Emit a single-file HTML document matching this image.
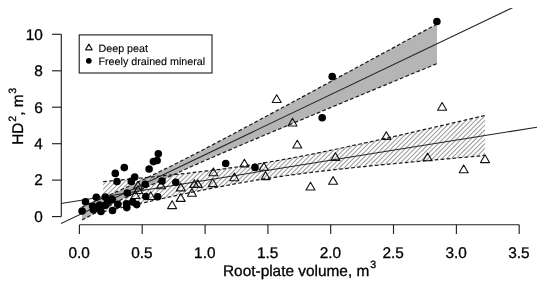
<!DOCTYPE html>
<html><head><meta charset="utf-8"><title>Root-plate volume chart</title>
<style>html,body{margin:0;padding:0;background:#fff}svg{display:block}</style></head>
<body>
<svg width="550" height="284" viewBox="0 0 550 284" font-family="'Liberation Sans', Arial, sans-serif" fill="#000" text-rendering="geometricPrecision">
<style>text{stroke:#000;stroke-width:0.3px}</style>
<defs>
<clipPath id="plot"><rect x="61" y="8" width="476" height="217"/></clipPath>
</defs>
<rect width="550" height="284" fill="#fff"/>
<polygon points="82.0,207.0 87.9,204.4 93.8,201.8 99.8,199.2 105.7,196.6 111.6,194.0 117.5,191.4 123.4,188.7 129.3,186.0 135.2,183.3 141.2,180.5 147.1,177.7 153.0,174.9 158.9,172.0 164.8,169.1 170.8,166.2 176.7,163.2 182.6,160.2 188.5,157.2 194.4,154.2 200.3,151.2 206.2,148.1 212.2,145.0 218.1,141.9 224.0,138.8 229.9,135.7 235.8,132.5 241.8,129.4 247.7,126.2 253.6,123.1 259.5,119.9 265.4,116.8 271.3,113.6 277.2,110.4 283.2,107.2 289.1,104.1 295.0,100.9 300.9,97.7 306.8,94.5 312.8,91.3 318.7,88.1 324.6,84.9 330.5,81.7 336.4,78.5 342.3,75.3 348.2,72.1 354.2,68.9 360.1,65.7 366.0,62.5 371.9,59.3 377.8,56.1 383.8,52.9 389.7,49.7 395.6,46.5 401.5,43.2 407.4,40.0 413.3,36.8 419.2,33.6 425.2,30.4 431.1,27.2 437.0,24.0 437.0,63.6 431.1,66.0 425.2,68.5 419.2,70.9 413.3,73.3 407.4,75.8 401.5,78.2 395.6,80.7 389.7,83.1 383.8,85.6 377.8,88.0 371.9,90.5 366.0,92.9 360.1,95.4 354.2,97.8 348.2,100.3 342.3,102.7 336.4,105.2 330.5,107.6 324.6,110.1 318.7,112.6 312.8,115.0 306.8,117.5 300.9,120.0 295.0,122.4 289.1,124.9 283.2,127.4 277.2,129.8 271.3,132.3 265.4,134.8 259.5,137.3 253.6,139.8 247.7,142.3 241.8,144.8 235.8,147.3 229.9,149.9 224.0,152.4 218.1,154.9 212.2,157.5 206.2,160.1 200.3,162.6 194.4,165.2 188.5,167.9 182.6,170.5 176.7,173.2 170.8,175.9 164.8,178.6 158.9,181.4 153.0,184.2 147.1,187.0 141.2,189.9 135.2,192.8 129.3,195.7 123.4,198.6 117.5,201.6 111.6,204.6 105.7,207.7 99.8,210.7 93.8,213.8 87.9,216.9 82.0,220.0" fill="#b5b5b5"/>
<clipPath id="band1"><polygon points="103.1,181.6 109.5,181.0 115.8,180.4 122.2,179.8 128.6,179.2 134.9,178.6 141.3,178.0 147.7,177.4 154.0,176.7 160.4,176.1 166.8,175.4 173.1,174.8 179.5,174.1 185.8,173.4 192.2,172.7 198.6,171.9 204.9,171.2 211.3,170.4 217.7,169.6 224.0,168.8 230.4,167.9 236.8,167.0 243.1,166.1 249.5,165.2 255.9,164.2 262.2,163.2 268.6,162.1 275.0,161.0 281.3,159.9 287.7,158.8 294.0,157.6 300.4,156.4 306.8,155.2 313.1,153.9 319.5,152.6 325.9,151.3 332.2,150.0 338.6,148.7 345.0,147.3 351.3,145.9 357.7,144.6 364.1,143.2 370.4,141.8 376.8,140.3 383.2,138.9 389.5,137.5 395.9,136.1 402.3,134.6 408.6,133.2 415.0,131.7 421.4,130.2 427.7,128.8 434.1,127.3 440.4,125.8 446.8,124.4 453.2,122.9 459.5,121.4 465.9,119.9 472.3,118.4 478.6,116.9 485.0,115.4 485.0,155.5 478.6,156.1 472.3,156.6 465.9,157.2 459.5,157.7 453.2,158.3 446.8,158.9 440.4,159.4 434.1,160.0 427.7,160.6 421.4,161.1 415.0,161.7 408.6,162.3 402.3,162.9 395.9,163.5 389.5,164.1 383.2,164.7 376.8,165.3 370.4,165.9 364.1,166.6 357.7,167.2 351.3,167.9 345.0,168.6 338.6,169.2 332.2,169.9 325.9,170.7 319.5,171.4 313.1,172.2 306.8,172.9 300.4,173.8 294.0,174.6 287.7,175.5 281.3,176.3 275.0,177.3 268.6,178.2 262.2,179.2 255.9,180.2 249.5,181.3 243.1,182.4 236.8,183.5 230.4,184.7 224.0,185.9 217.7,187.1 211.3,188.3 204.9,189.6 198.6,190.9 192.2,192.2 185.8,193.5 179.5,194.8 173.1,196.2 166.8,197.6 160.4,199.0 154.0,200.4 147.7,201.8 141.3,203.2 134.9,204.6 128.6,206.0 122.2,207.5 115.8,208.9 109.5,210.4 103.1,211.8"/></clipPath>
<path clip-path="url(#band1)" d="M100,108.58L490,-281.42M100,113.24L490,-276.75M100,117.91L490,-272.09M100,122.58L490,-267.42M100,127.25L490,-262.75M100,131.91L490,-258.09M100,136.58L490,-253.42M100,141.25L490,-248.75M100,145.91L490,-244.09M100,150.58L490,-239.42M100,155.25L490,-234.75M100,159.91L490,-230.09M100,164.58L490,-225.42M100,169.25L490,-220.75M100,173.92L490,-216.08M100,178.58L490,-211.42M100,183.25L490,-206.75M100,187.92L490,-202.08M100,192.58L490,-197.42M100,197.25L490,-192.75M100,201.92L490,-188.08M100,206.58L490,-183.42M100,211.25L490,-178.75M100,215.92L490,-174.08M100,220.59L490,-169.41M100,225.25L490,-164.75M100,229.92L490,-160.08M100,234.59L490,-155.41M100,239.25L490,-150.75M100,243.92L490,-146.08M100,248.59L490,-141.41M100,253.25L490,-136.75M100,257.92L490,-132.08M100,262.59L490,-127.41M100,267.26L490,-122.74M100,271.92L490,-118.08M100,276.59L490,-113.41M100,281.26L490,-108.74M100,285.92L490,-104.08M100,290.59L490,-99.41M100,295.26L490,-94.74M100,299.92L490,-90.08M100,304.59L490,-85.41M100,309.26L490,-80.74M100,313.93L490,-76.07M100,318.59L490,-71.41M100,323.26L490,-66.74M100,327.93L490,-62.07M100,332.59L490,-57.41M100,337.26L490,-52.74M100,341.93L490,-48.07M100,346.59L490,-43.41M100,351.26L490,-38.74M100,355.93L490,-34.07M100,360.60L490,-29.40M100,365.26L490,-24.74M100,369.93L490,-20.07M100,374.60L490,-15.40M100,379.26L490,-10.74M100,383.93L490,-6.07M100,388.60L490,-1.40M100,393.26L490,3.26M100,397.93L490,7.93M100,402.60L490,12.60M100,407.27L490,17.27M100,411.93L490,21.93M100,416.60L490,26.60M100,421.27L490,31.27M100,425.93L490,35.93M100,430.60L490,40.60M100,435.27L490,45.27M100,439.93L490,49.93M100,444.60L490,54.60M100,449.27L490,59.27M100,453.94L490,63.94M100,458.60L490,68.60M100,463.27L490,73.27M100,467.94L490,77.94M100,472.60L490,82.60M100,477.27L490,87.27M100,481.94L490,91.94M100,486.60L490,96.60M100,491.27L490,101.27M100,495.94L490,105.94M100,500.61L490,110.61M100,505.27L490,115.27M100,509.94L490,119.94M100,514.61L490,124.61M100,519.27L490,129.27M100,523.94L490,133.94M100,528.61L490,138.61M100,533.27L490,143.27M100,537.94L490,147.94M100,542.61L490,152.61M100,547.28L490,157.28M100,551.94L490,161.94M100,556.61L490,166.61M100,561.28L490,171.28M100,565.94L490,175.94M100,570.61L490,180.61M100,575.28L490,185.28M100,579.94L490,189.94M100,584.61L490,194.61" stroke="#a0a0a0" stroke-width="1.1" fill="none"/>
<polyline points="103.1,181.6 109.5,181.0 115.8,180.4 122.2,179.8 128.6,179.2 134.9,178.6 141.3,178.0 147.7,177.4 154.0,176.7 160.4,176.1 166.8,175.4 173.1,174.8 179.5,174.1 185.8,173.4 192.2,172.7 198.6,171.9 204.9,171.2 211.3,170.4 217.7,169.6 224.0,168.8 230.4,167.9 236.8,167.0 243.1,166.1 249.5,165.2 255.9,164.2 262.2,163.2 268.6,162.1 275.0,161.0 281.3,159.9 287.7,158.8 294.0,157.6 300.4,156.4 306.8,155.2 313.1,153.9 319.5,152.6 325.9,151.3 332.2,150.0 338.6,148.7 345.0,147.3 351.3,145.9 357.7,144.6 364.1,143.2 370.4,141.8 376.8,140.3 383.2,138.9 389.5,137.5 395.9,136.1 402.3,134.6 408.6,133.2 415.0,131.7 421.4,130.2 427.7,128.8 434.1,127.3 440.4,125.8 446.8,124.4 453.2,122.9 459.5,121.4 465.9,119.9 472.3,118.4 478.6,116.9 485.0,115.4" fill="none" stroke="#1a1a1a" stroke-width="1.2" stroke-dasharray="3.7,2.3"/>
<polyline points="103.1,211.8 109.5,210.4 115.8,208.9 122.2,207.5 128.6,206.0 134.9,204.6 141.3,203.2 147.7,201.8 154.0,200.4 160.4,199.0 166.8,197.6 173.1,196.2 179.5,194.8 185.8,193.5 192.2,192.2 198.6,190.9 204.9,189.6 211.3,188.3 217.7,187.1 224.0,185.9 230.4,184.7 236.8,183.5 243.1,182.4 249.5,181.3 255.9,180.2 262.2,179.2 268.6,178.2 275.0,177.3 281.3,176.3 287.7,175.5 294.0,174.6 300.4,173.8 306.8,172.9 313.1,172.2 319.5,171.4 325.9,170.7 332.2,169.9 338.6,169.2 345.0,168.6 351.3,167.9 357.7,167.2 364.1,166.6 370.4,165.9 376.8,165.3 383.2,164.7 389.5,164.1 395.9,163.5 402.3,162.9 408.6,162.3 415.0,161.7 421.4,161.1 427.7,160.6 434.1,160.0 440.4,159.4 446.8,158.9 453.2,158.3 459.5,157.7 465.9,157.2 472.3,156.6 478.6,156.1 485.0,155.5" fill="none" stroke="#1a1a1a" stroke-width="1.2" stroke-dasharray="3.7,2.3"/>
<polyline points="82.0,207.0 87.9,204.4 93.8,201.8 99.8,199.2 105.7,196.6 111.6,194.0 117.5,191.4 123.4,188.7 129.3,186.0 135.2,183.3 141.2,180.5 147.1,177.7 153.0,174.9 158.9,172.0 164.8,169.1 170.8,166.2 176.7,163.2 182.6,160.2 188.5,157.2 194.4,154.2 200.3,151.2 206.2,148.1 212.2,145.0 218.1,141.9 224.0,138.8 229.9,135.7 235.8,132.5 241.8,129.4 247.7,126.2 253.6,123.1 259.5,119.9 265.4,116.8 271.3,113.6 277.2,110.4 283.2,107.2 289.1,104.1 295.0,100.9 300.9,97.7 306.8,94.5 312.8,91.3 318.7,88.1 324.6,84.9 330.5,81.7 336.4,78.5 342.3,75.3 348.2,72.1 354.2,68.9 360.1,65.7 366.0,62.5 371.9,59.3 377.8,56.1 383.8,52.9 389.7,49.7 395.6,46.5 401.5,43.2 407.4,40.0 413.3,36.8 419.2,33.6 425.2,30.4 431.1,27.2 437.0,24.0" fill="none" stroke="#1a1a1a" stroke-width="1.2" stroke-dasharray="3.7,2.3"/>
<polyline points="82.0,220.0 87.9,216.9 93.8,213.8 99.8,210.7 105.7,207.7 111.6,204.6 117.5,201.6 123.4,198.6 129.3,195.7 135.2,192.8 141.2,189.9 147.1,187.0 153.0,184.2 158.9,181.4 164.8,178.6 170.8,175.9 176.7,173.2 182.6,170.5 188.5,167.9 194.4,165.2 200.3,162.6 206.2,160.1 212.2,157.5 218.1,154.9 224.0,152.4 229.9,149.9 235.8,147.3 241.8,144.8 247.7,142.3 253.6,139.8 259.5,137.3 265.4,134.8 271.3,132.3 277.2,129.8 283.2,127.4 289.1,124.9 295.0,122.4 300.9,120.0 306.8,117.5 312.8,115.0 318.7,112.6 324.6,110.1 330.5,107.6 336.4,105.2 342.3,102.7 348.2,100.3 354.2,97.8 360.1,95.4 366.0,92.9 371.9,90.5 377.8,88.0 383.8,85.6 389.7,83.1 395.6,80.7 401.5,78.2 407.4,75.8 413.3,73.3 419.2,70.9 425.2,68.5 431.1,66.0 437.0,63.6" fill="none" stroke="#1a1a1a" stroke-width="1.2" stroke-dasharray="3.7,2.3"/>
<g clip-path="url(#plot)" stroke="#222" stroke-width="1.05">
<line x1="61" y1="203.5" x2="537" y2="127.2"/>
<line x1="61" y1="223.5" x2="537" y2="-4.0"/>
</g>
<g fill="none" stroke="#111" stroke-width="1.1" stroke-linejoin="round">
<path d="M442.1,102.5 L446.6,110.3 L437.6,110.3 Z"/>
<path d="M276.7,94.8 L281.2,102.5 L272.2,102.5 Z"/>
<path d="M292.5,118.2 L297.0,126.0 L288.0,126.0 Z"/>
<path d="M297.3,140.2 L301.8,148.0 L292.8,148.0 Z"/>
<path d="M335.4,152.7 L339.9,160.4 L330.9,160.4 Z"/>
<path d="M310.5,182.2 L315.0,190.0 L306.0,190.0 Z"/>
<path d="M333.1,176.6 L337.6,184.3 L328.6,184.3 Z"/>
<path d="M386.3,131.7 L390.8,139.4 L381.8,139.4 Z"/>
<path d="M427.6,153.1 L432.1,160.8 L423.1,160.8 Z"/>
<path d="M463.7,164.9 L468.2,172.7 L459.2,172.7 Z"/>
<path d="M485.0,154.8 L489.5,162.6 L480.5,162.6 Z"/>
<path d="M244.4,159.2 L248.9,166.9 L239.9,166.9 Z"/>
<path d="M263.8,162.4 L268.3,170.2 L259.3,170.2 Z"/>
<path d="M265.6,171.8 L270.1,179.6 L261.1,179.6 Z"/>
<path d="M234.3,172.9 L238.8,180.7 L229.8,180.7 Z"/>
<path d="M213.4,167.9 L217.9,175.7 L208.9,175.7 Z"/>
<path d="M212.7,178.8 L217.2,186.6 L208.2,186.6 Z"/>
<path d="M194.3,179.7 L198.8,187.4 L189.8,187.4 Z"/>
<path d="M197.8,179.7 L202.3,187.4 L193.3,187.4 Z"/>
<path d="M180.8,183.2 L185.3,190.9 L176.3,190.9 Z"/>
<path d="M180.7,193.7 L185.2,201.4 L176.2,201.4 Z"/>
<path d="M191.9,188.6 L196.4,196.3 L187.4,196.3 Z"/>
<path d="M172.1,200.8 L176.6,208.6 L167.6,208.6 Z"/>
<path d="M161.0,181.1 L165.5,188.8 L156.5,188.8 Z"/>
<path d="M150.6,191.8 L155.1,199.5 L146.1,199.5 Z"/>
<path d="M138.0,181.2 L142.5,189.0 L133.5,189.0 Z"/>
<path d="M138.0,185.8 L142.5,193.5 L133.5,193.5 Z"/>
<path d="M135.3,190.8 L139.8,198.5 L130.8,198.5 Z"/>
</g>
<g fill="#000">
<circle cx="158.3" cy="153.7" r="3.8"/>
<circle cx="157.1" cy="160.5" r="3.8"/>
<circle cx="153.4" cy="161.6" r="3.8"/>
<circle cx="149.1" cy="169.0" r="3.8"/>
<circle cx="124.3" cy="167.6" r="3.8"/>
<circle cx="115.3" cy="173.4" r="3.8"/>
<circle cx="134.7" cy="177.0" r="3.8"/>
<circle cx="117.0" cy="181.5" r="3.8"/>
<circle cx="131.3" cy="181.4" r="3.8"/>
<circle cx="145.2" cy="184.2" r="3.8"/>
<circle cx="162.0" cy="181.0" r="3.8"/>
<circle cx="175.8" cy="182.2" r="3.8"/>
<circle cx="127.3" cy="193.0" r="3.8"/>
<circle cx="96.3" cy="197.3" r="3.8"/>
<circle cx="105.3" cy="197.0" r="3.8"/>
<circle cx="85.5" cy="201.8" r="3.8"/>
<circle cx="82.1" cy="211.0" r="3.8"/>
<circle cx="92.6" cy="206.0" r="3.8"/>
<circle cx="93.5" cy="209.8" r="3.8"/>
<circle cx="99.6" cy="205.0" r="3.8"/>
<circle cx="101.0" cy="211.5" r="3.8"/>
<circle cx="98.2" cy="208.5" r="3.8"/>
<circle cx="105.4" cy="205.3" r="3.8"/>
<circle cx="109.2" cy="200.4" r="3.8"/>
<circle cx="112.5" cy="210.5" r="3.8"/>
<circle cx="117.9" cy="204.4" r="3.8"/>
<circle cx="126.6" cy="203.7" r="3.8"/>
<circle cx="126.8" cy="207.6" r="3.8"/>
<circle cx="132.7" cy="202.0" r="3.8"/>
<circle cx="136.7" cy="204.6" r="3.8"/>
<circle cx="145.8" cy="196.5" r="3.8"/>
<circle cx="157.7" cy="196.8" r="3.8"/>
<circle cx="225.7" cy="163.5" r="3.8"/>
<circle cx="255.0" cy="167.4" r="3.8"/>
<circle cx="322.2" cy="117.7" r="3.8"/>
<circle cx="332.2" cy="76.6" r="3.8"/>
<circle cx="436.9" cy="21.5" r="3.8"/>
<circle cx="112.3" cy="199.6" r="3.8"/>
<circle cx="107.6" cy="201.5" r="3.8"/>
</g>
<g stroke="#222" stroke-width="1.15" fill="none">
<path d="M79.4,224.7 H519.2"/>
<path d="M79.4,224.7 V233.9"/>
<path d="M142.2,224.7 V233.9"/>
<path d="M205.1,224.7 V233.9"/>
<path d="M267.9,224.7 V233.9"/>
<path d="M330.7,224.7 V233.9"/>
<path d="M393.5,224.7 V233.9"/>
<path d="M456.4,224.7 V233.9"/>
<path d="M519.2,224.7 V233.9"/>
<path d="M61.3,216.6 V34.3"/>
<path d="M61.3,216.6 H52"/>
<path d="M61.3,180.1 H52"/>
<path d="M61.3,143.7 H52"/>
<path d="M61.3,107.2 H52"/>
<path d="M61.3,70.8 H52"/>
<path d="M61.3,34.3 H52"/>
</g>
<g font-size="15.4" text-anchor="middle">
<text x="79.1" y="258.3">0.0</text>
<text x="141.9" y="258.3">0.5</text>
<text x="204.8" y="258.3">1.0</text>
<text x="267.6" y="258.3">1.5</text>
<text x="330.4" y="258.3">2.0</text>
<text x="393.2" y="258.3">2.5</text>
<text x="456.1" y="258.3">3.0</text>
<text x="518.9" y="258.3">3.5</text>
</g>
<g font-size="15.4" text-anchor="end">
<text x="42.8" y="221.9">0</text>
<text x="42.8" y="185.4">2</text>
<text x="42.8" y="149.0">4</text>
<text x="42.8" y="112.5">6</text>
<text x="42.8" y="76.1">8</text>
<text x="42.8" y="39.6">10</text>
</g>
<text x="223" y="275.7" font-size="15.4">Root-plate volume, m<tspan font-size="10.6" dy="-7.8" dx="1">3</tspan></text>
<text transform="translate(23.3,144.8) rotate(-90)" font-size="15.4">HD<tspan font-size="10.6" dy="-7.6" dx="0.8">2</tspan><tspan dy="7.6">, m</tspan><tspan font-size="10.6" dy="-7.6" dx="0.8">3</tspan></text>
<rect x="79.2" y="34.9" width="132.8" height="38.1" fill="#fff" stroke="#1a1a1a" stroke-width="1.1"/>
<path d="M88.9,44.1 L92.2,49.8 L85.6,49.8 Z" fill="none" stroke="#111" stroke-width="1.15" stroke-linejoin="round"/>
<circle cx="88.8" cy="60.8" r="2.9"/>
<text x="98.5" y="51.8" font-size="10.72" style="stroke-width:0.12px">Deep peat</text>
<text x="98.5" y="65.0" font-size="10.72" style="stroke-width:0.12px">Freely drained mineral</text>
</svg>
</body></html>
